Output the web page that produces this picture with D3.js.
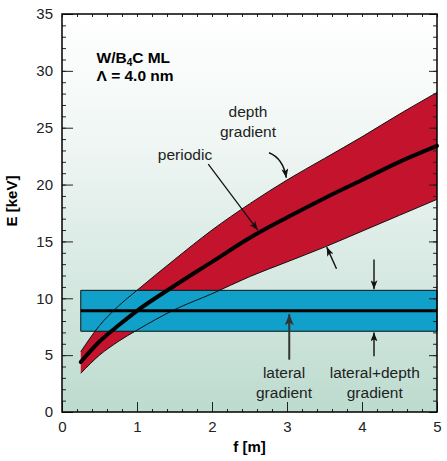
<!DOCTYPE html>
<html lang="en">
<head>
  <meta charset="UTF-8">
  <title>W/B4C ML energy vs f</title>
  <script src="https://d3js.org/d3.v7.min.js"></script>
  <style>
    body {
      margin: 0;
      background: #fff;
      font-family: "Liberation Sans", Arial, Helvetica, sans-serif;
    }
    .tick text {
      font-size: 15px;
      fill: #222;
    }
    .domain { display: none; }
    .note {
      font-size: 15.5px;
      fill: #222;
    }
  </style>
</head>
<body>
  <div id="chart"></div>

  <script>
    // values
    const fGrid     = [0.25, 0.5, 0.75, 1, 1.5, 2, 2.5, 3, 3.5, 4, 4.5, 5];
    const upperE    = [5.3, 7.6, 9.3, 10.7, 13.4, 16.0, 18.3, 20.4, 22.3, 24.2, 26.2, 28.1];
    const periodicE = [4.4, 6.2, 7.6, 8.9, 11.1, 13.2, 15.3, 17.1, 18.8, 20.4, 22.0, 23.4];
    const lowerE    = [3.4, 5.0, 6.2, 7.2, 9.0, 10.4, 11.9, 13.2, 14.5, 15.9, 17.3, 18.7];

    // lateral gradient band (flat in E)
    const lateralF    = [0.25, 5];
    const lateralLow  = [7.1, 7.1];
    const lateralMid  = [8.9, 8.9];
    const lateralHigh = [10.7, 10.7];

    const xTicks = [0, 1, 2, 3, 4, 5];
    const yTicks = [0, 5, 10, 15, 20, 25, 30, 35];

    const margin = { top: 14, right: 10, bottom: 49, left: 62 };
    const W = 447, H = 461;
    const width = W - margin.left - margin.right;
    const height = H - margin.top - margin.bottom;

    const x = d3.scaleLinear().domain([0, 5]).range([0, width]);
    const y = d3.scaleLinear().domain([0, 35]).range([height, 0]);

    const svg = d3.select("#chart").append("svg")
      .attr("width", W)
      .attr("height", H);

    const defs = svg.append("defs");
    const grad = defs.append("linearGradient")
      .attr("id", "bg").attr("x1", 0).attr("y1", 0).attr("x2", 0).attr("y2", 1);
    grad.append("stop").attr("offset", "0%").attr("stop-color", "#ffffff");
    grad.append("stop").attr("offset", "30%").attr("stop-color", "#f1f7f5");
    grad.append("stop").attr("offset", "100%").attr("stop-color", "#bddbcf");

    // arrow heads
    function marker(id, len, wid, color) {
      defs.append("marker")
        .attr("id", id)
        .attr("viewBox", `0 0 ${len} ${wid}`)
        .attr("refX", len).attr("refY", wid / 2)
        .attr("markerWidth", len).attr("markerHeight", wid)
        .attr("markerUnits", "userSpaceOnUse")
        .attr("orient", "auto")
        .append("path")
        .attr("d", `M0,0L${len},${wid / 2}L0,${wid}L${len * 0.25},${wid / 2}Z`)
        .attr("fill", color);
    }
    marker("head", 9, 7, "#111");
    marker("headBig", 11, 9, "#333");

    const g = svg.append("g")
      .attr("transform", `translate(${margin.left},${margin.top})`);

    g.append("rect")
      .attr("width", width).attr("height", height)
      .attr("fill", "url(#bg)");

    const pts = (ys) => fGrid.map((f, i) => [f, ys[i]]);
    const curve = d3.curveMonotoneX;

    // depth gradient band (red)
    const band = fGrid.map((f, i) => ({ f, lo: lowerE[i], hi: upperE[i] }));
    g.append("path")
      .datum(band)
      .attr("fill", "#c4132d")
      .attr("d", d3.area().curve(curve)
        .x(d => x(d.f)).y0(d => y(d.lo)).y1(d => y(d.hi)));

    // lateral gradient band (blue)
    const lat = lateralF.map((f, i) => ({ f, lo: lateralLow[i], hi: lateralHigh[i] }));
    g.append("path")
      .datum(lat)
      .attr("fill", "#10a0ca")
      .attr("stroke", "#111")
      .attr("stroke-width", 1)
      .attr("d", d3.area()
        .x(d => x(d.f)).y0(d => y(d.lo)).y1(d => y(d.hi)));

    const line = d3.line().curve(curve).x(d => x(d[0])).y(d => y(d[1]));

    // thin edges of the red band, on top of the blue one
    [upperE, lowerE].forEach(ys => {
      g.append("path")
        .datum(pts(ys))
        .attr("fill", "none")
        .attr("stroke", "#111")
        .attr("stroke-width", 1)
        .attr("d", line);
    });

    // centre lines
    g.append("path")
      .datum(lateralF.map((f, i) => [f, lateralMid[i]]))
      .attr("fill", "none")
      .attr("stroke", "#000")
      .attr("stroke-width", 3)
      .attr("d", d3.line().x(d => x(d[0])).y(d => y(d[1])));

    g.append("path")
      .datum(pts(periodicE))
      .attr("fill", "none")
      .attr("stroke", "#000")
      .attr("stroke-width", 4)
      .attr("stroke-linecap", "round")
      .attr("d", line);

    // axes: ticks all point inward
    g.append("g")
      .call(d3.axisLeft(y).tickValues(yTicks).tickSizeInner(-11).tickSizeOuter(0).tickPadding(9));
    g.append("g")
      .call(d3.axisLeft(y).ticks(35).tickSize(-4).tickFormat(""));
    g.append("g")
      .attr("transform", `translate(${width},0)`)
      .call(d3.axisRight(y).ticks(35).tickSize(-4).tickFormat(""));
    g.append("g")
      .attr("transform", `translate(${width},0)`)
      .call(d3.axisRight(y).tickValues(yTicks).tickSize(-8).tickFormat(""));
    g.append("g")
      .call(d3.axisTop(x).ticks(25).tickSize(-3).tickFormat(""));
    g.append("g")
      .attr("transform", `translate(0,${height})`)
      .call(d3.axisBottom(x).ticks(25).tickSize(-3).tickFormat(""));
    g.append("g")
      .attr("transform", `translate(0,${height})`)
      .call(d3.axisBottom(x).tickValues(xTicks).tickFormat(d3.format("d"))
        .tickSizeInner(-10).tickSizeOuter(0).tickPadding(9));

    g.selectAll(".tick line").attr("stroke", "#222");

    // frame
    g.append("rect")
      .attr("width", width).attr("height", height)
      .attr("fill", "none")
      .attr("stroke", "#000")
      .attr("stroke-width", 1.5);

    // axis titles
    svg.append("text")
      .attr("transform", `translate(17,${margin.top + y(17.5) - 12}) rotate(-90)`)
      .attr("text-anchor", "middle")
      .style("font-size", "15px")
      .style("font-weight", "bold")
      .text("E [keV]");

    svg.append("text")
      .attr("x", margin.left + width / 2)
      .attr("y", 452)
      .attr("text-anchor", "middle")
      .style("font-size", "15px")
      .style("font-weight", "bold")
      .text("f [m]");

    // sample label
    const title = g.append("text")
      .attr("x", x(0.46)).attr("y", y(30.7))
      .style("font-size", "15.5px")
      .style("font-weight", "bold");
    title.append("tspan").text("W/B");
    title.append("tspan").attr("dy", 3).style("font-size", "10px").text("4");
    title.append("tspan").attr("dy", -3).text("C ML");

    g.append("text")
      .attr("x", x(0.46)).attr("y", y(29.1))
      .style("font-size", "15.5px")
      .style("font-weight", "bold")
      .text("\u039B = 4.0 nm");

    // annotations
    const notes = [
      { f: 1.64, e: 22.2, t: "periodic" },
      { f: 2.48, e: 25.9, t: "depth" },
      { f: 2.48, e: 24.2, t: "gradient" },
      { f: 2.96, e: 2.97, t: "lateral" },
      { f: 2.96, e: 1.23, t: "gradient" },
      { f: 4.17, e: 2.97, t: "lateral+depth" },
      { f: 4.17, e: 1.23, t: "gradient" }
    ];
    g.selectAll(".note")
      .data(notes)
      .enter().append("text")
      .attr("class", "note")
      .attr("x", d => x(d.f))
      .attr("y", d => y(d.e))
      .attr("text-anchor", "middle")
      .text(d => d.t);

    const arrows = [
      { from: [1.95, 21.8], to: [2.61, 16.0], w: 1.2, c: "#111", m: "head" },
      { from: [3.66, 12.6], to: [3.53, 14.5], w: 1.4, c: "#111", m: "head" },
      { from: [4.16, 13.4], to: [4.16, 10.8], w: 1.4, c: "#111", m: "head" },
      { from: [4.16, 4.9], to: [4.16, 7.0], w: 1.4, c: "#111", m: "head" },
      { from: [3.03, 4.6], to: [3.03, 8.6], w: 2, c: "#333", m: "headBig" }
    ];
    g.selectAll(".arrow")
      .data(arrows)
      .enter().append("line")
      .attr("class", "arrow")
      .attr("x1", d => x(d.from[0])).attr("y1", d => y(d.from[1]))
      .attr("x2", d => x(d.to[0])).attr("y2", d => y(d.to[1]))
      .attr("stroke", d => d.c)
      .attr("stroke-width", d => d.w)
      .attr("marker-end", d => `url(#${d.m})`);

    // curved arrow to the upper edge
    const p = d3.path();
    p.moveTo(x(2.76), y(22.8));
    p.quadraticCurveTo(x(2.95), y(22.3), x(2.99), y(20.6));
    g.append("path")
      .attr("d", p.toString())
      .attr("fill", "none")
      .attr("stroke", "#111")
      .attr("stroke-width", 1.4)
      .attr("marker-end", "url(#head)");
  </script>
</body>
</html>
